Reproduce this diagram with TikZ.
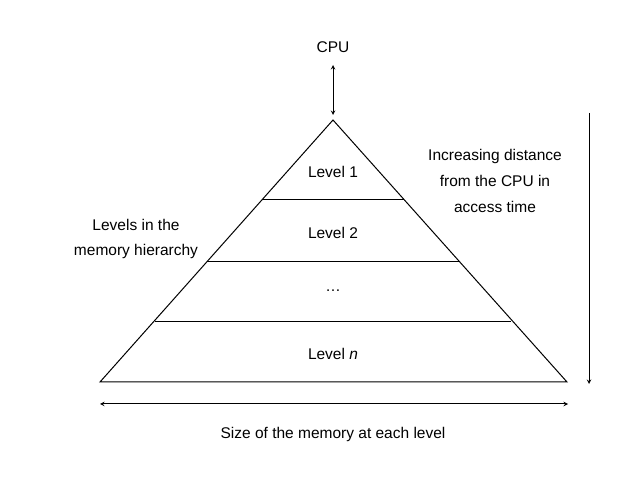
\documentclass[tikz,border=0pt]{standalone}
\usepackage{fontspec}
\setmainfont{Liberation Sans}
\begin{document}
\begin{tikzpicture}[x=1pt,y=-1pt,line width=1pt,
  lbl/.style={font=\fontsize{15.5}{26}\selectfont,align=center,inner sep=0pt},
  arr/.style={-stealth}]
\useasboundingbox (0,0) rectangle (638,478);
\coordinate (A) at (333,120);
\coordinate (L) at (100,382);
\coordinate (R) at (567,382);
\draw (A) -- (L) -- (R) -- cycle;
\coordinate (l1) at (262,200); \coordinate (r1) at (404,200);
\coordinate (l2) at (207,262); \coordinate (r2) at (459,262);
\coordinate (l3) at (155,322); \coordinate (r3) at (511,322);
\draw (l1) -- (r1); \draw (l2) -- (r2); \draw (l3) -- (r3);
\node[lbl] (cpu) at (333,47) {CPU};
\node[lbl] (v1) at (333,172) {Level 1};
\node[lbl] (v2) at (333,233) {Level 2};
\node[lbl] (vd) at (333,291) {\dots};
\node[lbl] (vn) at (333,354) {Level \textit{n}};
\node[lbl,font=\fontsize{15.5}{25}\selectfont] (left) at (136,239) {Levels in the\\memory hierarchy};
\node[lbl] (right) at (495,181) {Increasing distance\\from the CPU in\\access time};
\node[lbl] (size) at (333,434) {Size of the memory at each level};
\coordinate (c1) at (333,65); \coordinate (c2) at (333,115);
\draw[stealth-stealth] (c1) -- (c2);
\coordinate (t1) at (589,113); \coordinate (t2) at (589,384);
\draw[arr] (t1) -- (t2);
\coordinate (b1) at (100,404); \coordinate (b2) at (568,404);
\draw[stealth-stealth] (b1) -- (b2);
\end{tikzpicture}
\end{document}
